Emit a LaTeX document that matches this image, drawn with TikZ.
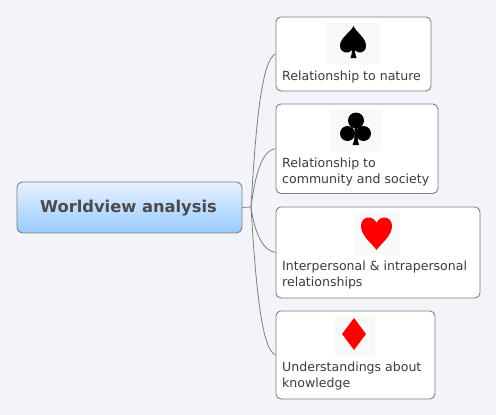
\documentclass[tikz,border=0pt]{standalone}
\usepackage{fontspec}
\setmainfont{DejaVu Sans}
\definecolor{pagebg}{HTML}{F2F4FA}
\definecolor{edgegray}{HTML}{7F7F7F}
\definecolor{txt}{HTML}{3C3C40}
\definecolor{roottxt}{HTML}{4A4A4E}
\definecolor{iconbg}{HTML}{F9F9F9}
\definecolor{rtop}{HTML}{E6F1FF}
\definecolor{rbot}{HTML}{98CBFF}
\tikzset{
  topicbox/.style={draw=edgegray,line width=0.9pt,rounded corners=5pt,fill=white,inner sep=0pt,anchor=north west},
  rootbox/.style={draw=edgegray,line width=0.9pt,rounded corners=6pt,top color=rtop,bottom color=rbot,inner sep=0pt,anchor=north west,minimum width=225pt,minimum height=51pt},
  iconbox/.style={fill=iconbg,inner sep=0pt,anchor=north west},
  label/.style={text=txt,inner sep=0pt,anchor=base west,font=\fontsize{12.55pt}{16pt}\selectfont},
  conn/.style={draw=edgegray,line width=0.8pt},
}
\begin{document}
\begin{tikzpicture}[x=1pt,y=-1pt]
\useasboundingbox (0,0) rectangle (496,415);
\fill[pagebg] (0,0) rectangle (496,415);
% boxes
\node[rootbox] (root) at (16.5,181.5) {};
\node[topicbox,minimum width=155pt,minimum height=74pt] (a) at (275.5,16.5) {};
\node[topicbox,minimum width=162pt,minimum height=89.5pt] (b) at (275.5,103.5) {};
\node[topicbox,minimum width=204pt,minimum height=91pt] (c) at (275.5,206.5) {};
\node[topicbox,minimum width=159pt,minimum height=88pt] (d) at (275.5,310.5) {};
% connectors
\coordinate (hub) at (251,207);
\draw[conn] (root.east) -- (hub);
\draw[conn] (hub) .. controls (256,120) and (262,60) .. (a.west);
\draw[conn] (hub) .. controls (255,175) and (262,150) .. (b.west);
\draw[conn] (hub) .. controls (254,230) and (262,251) .. (c.west);
\draw[conn] (hub) .. controls (256,290) and (262,350) .. (d.west);
% icon backgrounds
\node[iconbox,minimum width=54pt,minimum height=42pt] (ia) at (326,22) {};
\node[iconbox,minimum width=51pt,minimum height=42pt] (ib) at (330,109) {};
\node[iconbox,minimum width=46pt,minimum height=43pt] (ic) at (354,212) {};
\node[iconbox,minimum width=41pt,minimum height=40pt] (id) at (334,316) {};
% spade
\fill[black] (353.5,26) .. controls (351,32) and (340,38) .. (340,45.5)
  .. controls (340,53.5) and (349,54.5) .. (352,50)
  .. controls (352,53) and (351.5,55.5) .. (350.5,58) -- (356.5,58)
  .. controls (355.5,55.5) and (355,53) .. (355,50)
  .. controls (358,54.5) and (366,53.5) .. (366,45.5)
  .. controls (366,38) and (356,32) .. (353.5,26) -- cycle;
% club
\fill[black] (356,120.5) circle (8);
\fill[black] (347.5,133.5) circle (7.5);
\fill[black] (363.5,133.5) circle (7.5);
\fill[black] (354.5,125) -- (357.5,125) -- (357.5,136) .. controls (357.5,140) and (358.5,143) .. (359,145) -- (352.5,145) .. controls (353.5,143) and (354.5,140) .. (354.5,136) -- cycle;
% heart
\fill[red] (376.5,250) .. controls (372,243.5) and (361,236) .. (361,226)
  .. controls (361,215.5) and (373.5,215) .. (376.5,223)
  .. controls (379.5,215) and (392,215.5) .. (392,226)
  .. controls (392,236) and (381,243.5) .. (376.5,250) -- cycle;
% diamond
\fill[red] (354,318) -- (366,334) -- (354,350) -- (342,334) -- cycle;
% labels
\node[label] (ta) at (282,80) {Relationship to nature};
\node[label] (tb1) at (282,167) {Relationship to};
\node[label] (tb2) at (282,183) {community and society};
\node[label] (tc1) at (282,270) {Interpersonal \& intrapersonal};
\node[label] (tc2) at (282,286) {relationships};
\node[label] (td1) at (282,371) {Understandings about};
\node[label] (td2) at (282,387) {knowledge};
\node[text=roottxt,inner sep=0pt,anchor=base,font=\fontsize{16.3pt}{19pt}\selectfont\bfseries] (troot) at (128.5,212.5) {Worldview analysis};
\end{tikzpicture}
\end{document}
